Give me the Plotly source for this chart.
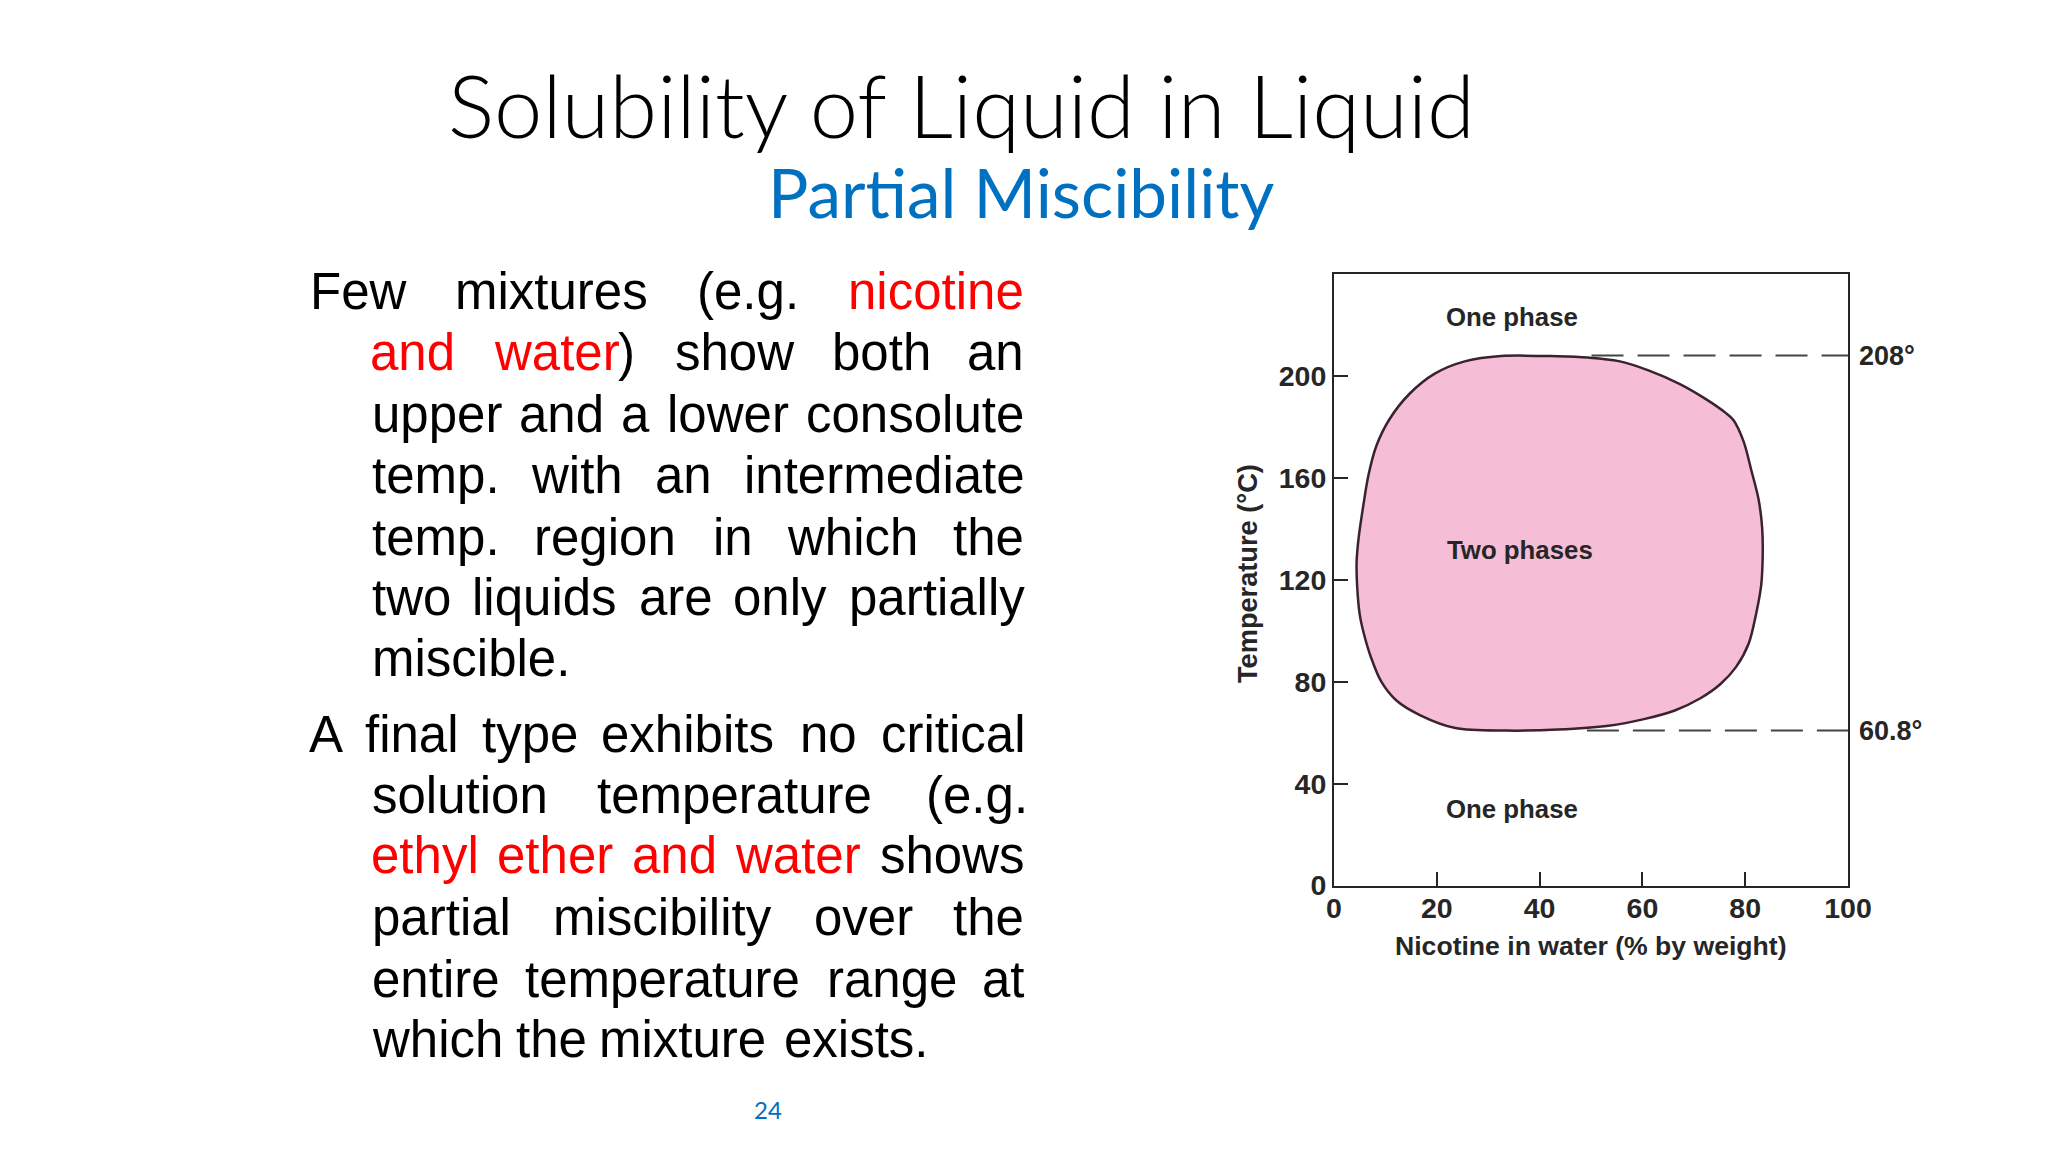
import plotly.graph_objects as go

# ---------------- data ----------------
# boundary of the two-phase region (nicotine % by weight, temperature °C)
x_pct = [19.6, 25.6, 32.5, 43.5, 49.4, 55.4, 61.3, 67.3, 72.2, 76.2, 77.7, 79.7, 81.2,
         82.6, 83.3, 83.4, 83.1, 82.1, 80.7, 78.2, 75.2, 71.2, 66.3, 60.3, 53.4, 43.5,
         33.5, 23.6, 16.7, 12.2, 9.2, 7.2, 5.8, 5.0, 4.5, 4.4, 4.8, 5.6, 6.7, 8.2,
         10.7, 14.7, 19.6]
temp_c = [200.9, 205.8, 207.8, 207.7, 207.2, 205.8, 202.1, 196.8, 191.1, 185.5, 182.7, 174.2, 162.9,
          151.6, 140.3, 129.0, 117.7, 106.4, 95.1, 85.7, 79.1, 73.4, 68.7, 65.3, 62.7, 61.2,
          60.8, 61.8, 66.9, 72.5, 80.0, 89.5, 98.9, 106.4, 117.7, 127.1, 136.5, 147.8, 161.0, 172.3,
          182.7, 193.0, 200.9]

upper_cst = 208.0
lower_cst = 60.8
upper_label = "208°"
lower_label = "60.8°"
dash_x_upper = [50.1, 100]
dash_x_lower = [49.2, 100]

x_ticks = [0, 20, 40, 60, 80, 100]
y_ticks = [0, 40, 80, 120, 160, 200]
x_range = [0, 100]
y_range = [0, 240]

region_labels = ["One phase", "Two phases", "One phase"]
region_x = [34.6, 36.2, 34.6]
region_y = [223, 131.8, 30.1]

title = "Solubility of Liquid in Liquid"
subtitle = "Partial Miscibility"
page_no = "24"
x_title = "Nicotine in water (% by weight)"
y_title = "Temperature (°C)"

# body text: each line is a list of (word, colour key)
R, K = "red", "black"
body_lines = [
    [("Few", K), ("mixtures", K), ("(e.g.", K), ("nicotine", R)],
    [("and", R), ("water", R), (")", K), ("show", K), ("both", K), ("an", K)],
    [("upper", K), ("and", K), ("a", K), ("lower", K), ("consolute", K)],
    [("temp.", K), ("with", K), ("an", K), ("intermediate", K)],
    [("temp.", K), ("region", K), ("in", K), ("which", K), ("the", K)],
    [("two", K), ("liquids", K), ("are", K), ("only", K), ("partially", K)],
    [("miscible.", K)],
    [("A", K), ("final", K), ("type", K), ("exhibits", K), ("no", K), ("critical", K)],
    [("solution", K), ("temperature", K), ("(e.g.", K)],
    [("ethyl", R), ("ether", R), ("and", R), ("water", R), ("shows", K)],
    [("partial", K), ("miscibility", K), ("over", K), ("the", K)],
    [("entire", K), ("temperature", K), ("range", K), ("at", K)],
    [("which", K), ("the", K), ("mixture", K), ("exists.", K)],
]

# ---------------- layout (pixels of the 2048x1152 page) ----------------
W, H = 2048, 1152
# left edge of every word on each line (justified text)
word_left_px = [
    [313, 458, 700, 851],
    [373, 497, 621, 678, 835, 970],
    [375, 522, 624, 670, 809],
    [375, 534, 658, 747],
    [375, 537, 716, 790, 956],
    [375, 475, 642, 736, 852],
    [375],
    [312, 368, 485, 604, 803, 884],
    [375, 600, 929],
    [374, 500, 635, 738, 883],
    [375, 556, 817, 956],
    [375, 528, 830, 985],
    [375, 519, 602, 787],
]
TEXT_SHIFT = -4
line_baseline_px = [309, 370, 432, 493, 555, 615, 676, 752, 813, 873, 935, 997, 1057]
BODY_SIZE = 51
colours = {"red": "#FF0000", "black": "#000000"}


def px(xp):
    return xp / W


def py(yp):
    return 1 - yp / H


# plot area in pixels
PL, PR, PT, PB = 1334, 1848, 274, 885.5

ink = "#262626"
chart_font = "Liberation Sans, Arial, sans-serif"

fig = go.Figure()

fig.add_trace(go.Scatter(x=dash_x_upper, y=[upper_cst, upper_cst], mode="lines",
                         line=dict(color="#444444", width=2, dash="32px,14px"),
                         hoverinfo="skip", showlegend=False))
fig.add_trace(go.Scatter(x=dash_x_lower, y=[lower_cst, lower_cst], mode="lines",
                         line=dict(color="#444444", width=2, dash="32px,14px"),
                         hoverinfo="skip", showlegend=False))
fig.add_trace(go.Scatter(x=x_pct, y=temp_c, mode="lines", fill="toself",
                         fillcolor="#F6BDD7",
                         line=dict(color="#3a2230", width=2.5, shape="spline", smoothing=0.9),
                         hoverinfo="skip", showlegend=False))

annotations = []

# title & subtitle
annotations.append(dict(text=title, x=px(961), y=py(104), xref="paper", yref="paper",
                        xanchor="center", yanchor="middle", showarrow=False,
                        font=dict(family="Lato, Open Sans, sans-serif", size=86.8, color="#000000", weight=300)))
annotations.append(dict(text=subtitle, x=px(1021), y=py(192), xref="paper", yref="paper",
                        xanchor="center", yanchor="middle", showarrow=False,
                        font=dict(family="Lato, Open Sans, sans-serif", size=67.4, color="#0070C0")))
annotations.append(dict(text=page_no, x=px(768), y=py(1109), xref="paper", yref="paper",
                        xanchor="center", yanchor="middle", showarrow=False,
                        font=dict(family="Lato, Open Sans, sans-serif", size=24, color="#0070C0")))

# body text
for words, lefts, base in zip(body_lines, word_left_px, line_baseline_px):
    for (w, c), lx in zip(words, lefts):
        annotations.append(dict(text=w, x=px(lx + TEXT_SHIFT), y=py(base - 0.35 * BODY_SIZE),
                                xref="paper", yref="paper", xanchor="left", yanchor="middle",
                                showarrow=False, borderpad=0,
                                font=dict(family="Liberation Sans, Arial, sans-serif",
                                          size=BODY_SIZE, color=colours[c])))

# region labels
for t, xv, yv in zip(region_labels, region_x, region_y):
    annotations.append(dict(text=t, x=xv, y=yv, xref="x", yref="y", showarrow=False,
                            xanchor="center", yanchor="middle",
                            font=dict(family=chart_font, size=25.8, color=ink, weight="bold")))

# critical temperature labels
for t, yv in [(upper_label, upper_cst), (lower_label, lower_cst)]:
    annotations.append(dict(text=t, x=px(1857), y=yv, xref="paper", yref="y", showarrow=False,
                            xanchor="left", yanchor="middle",
                            font=dict(family=chart_font, size=27, color=ink, weight="bold")))

# axis titles
annotations.append(dict(text=x_title, x=px(1591), y=py(946), xref="paper", yref="paper",
                        showarrow=False, xanchor="center", yanchor="middle",
                        font=dict(family=chart_font, size=26.6, color=ink, weight="bold")))
annotations.append(dict(text=y_title, x=px(1247), y=py(574), xref="paper", yref="paper",
                        showarrow=False, xanchor="center", yanchor="middle", textangle=-90,
                        font=dict(family=chart_font, size=27.2, color=ink, weight="bold")))

axis_common = dict(showline=True, linecolor=ink, linewidth=2, mirror=True,
                   ticks="inside", ticklen=14, tickwidth=2, tickcolor=ink,
                   showgrid=False, zeroline=False, automargin=False,
                   tickfont=dict(family=chart_font, size=28.5, color=ink, weight="bold"))

fig.update_layout(
    autosize=True,
    margin=dict(l=0, r=0, t=0, b=0, pad=0),
    paper_bgcolor="white", plot_bgcolor="white",
    xaxis=dict(domain=[px(PL), px(PR)], range=x_range, tickvals=x_ticks,
               ticktext=[str(v) for v in x_ticks], ticklabelstandoff=-4, **axis_common),
    yaxis=dict(domain=[py(PB), py(PT)], range=y_range, tickvals=y_ticks,
               ticktext=[str(v) for v in y_ticks], **axis_common),
    annotations=annotations,
)

post = (
    "document.documentElement.style.margin='0';"
    "document.documentElement.style.overflow='hidden';"
    "document.body.style.margin='0';"
    "document.body.style.overflow='hidden';"
    "var gd=document.getElementById('{plot_id}');"
    "if(gd){Plotly.Plots.resize(gd);}"
)

fig.write_html("out.html", default_width="100vw", default_height="100vh",
               config={"displayModeBar": False, "responsive": True},
               post_script=post)
